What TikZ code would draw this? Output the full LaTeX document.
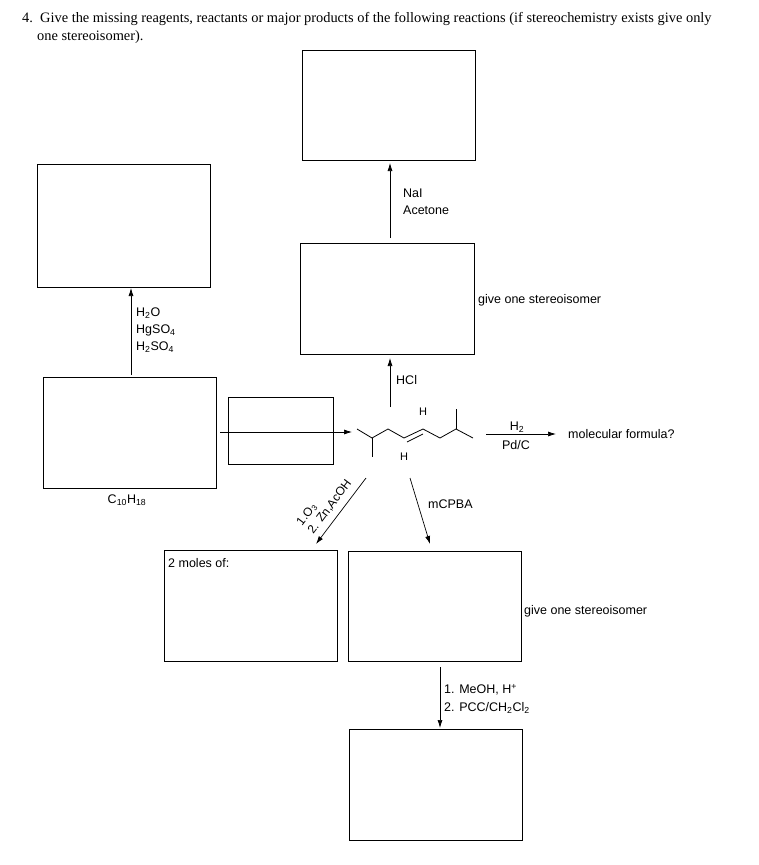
\documentclass[tikz,border=0pt]{standalone}
\usepackage{fontspec}
\setmainfont{Liberation Serif}
\newfontfamily\arial{Liberation Sans}
\usetikzlibrary{arrows.meta,calc}
\begin{document}
\begin{tikzpicture}[x=1pt,y=-1pt]
\tikzset{box/.style={draw,line width=0.8pt},
  rxn/.style={-{Latex[length=8pt,width=5pt]},line width=0.7pt},
  lbl/.style={font=\arial\fontsize{12.5}{17}\selectfont,inner sep=0pt,align=left},
  bond/.style={line width=0.8pt}}
\useasboundingbox (0,0) rectangle (759,865);
% question text
\node[anchor=base west,inner sep=0pt,font=\fontsize{14.4}{16}\selectfont] (q1) at (22,22) {4.\ \ Give the missing reagents, reactants or major products of the following reactions (if stereochemistry exists give only};
\node[anchor=base west,inner sep=0pt,font=\fontsize{14.4}{16}\selectfont] (q2) at (37,40) {one stereoisomer).};
% boxes
\draw[box] (302,50) rectangle (475,160);
\draw[box] (37,164) rectangle (210,287);
\draw[box] (300,243) rectangle (474,354);
\draw[box] (43,377) rectangle (216,488);
\draw[box] (228,397) rectangle (333,464);
\draw[box] (164,550) rectangle (337,661);
\draw[box] (348,551) rectangle (521,661);
\draw[box] (349,729) rectangle (522,840);
% alkene
\coordinate (a1) at (357,429); \coordinate (a2) at (372,438); \coordinate (a3) at (372,457);
\coordinate (a4) at (388,429); \coordinate (a5) at (404,438); \coordinate (a6) at (423,429);
\coordinate (a7) at (440,438); \coordinate (a8) at (456,429); \coordinate (a9) at (456,409);
\coordinate (a10) at (473,438);
\draw[bond] (a1) -- (a2) -- (a4) -- (a5) -- (a6) -- (a7) -- (a8) -- (a10);
\draw[bond] (a2) -- (a3);
\draw[bond] (a8) -- (a9);
\draw[bond] ($(a5)+(3,4)$) -- ($(a6)+(0,5)$);
\node[lbl,font=\arial\fontsize{11}{12}\selectfont] (hu) at (423,412) {H};
\node[lbl,font=\arial\fontsize{11}{12}\selectfont] (hd) at (404,457) {H};
% arrows
\draw[line width=0.7pt] (220,432) -- (345,432);
\draw[rxn] (333,432) -- (352,432);
\draw[rxn] (390,238) -- (390,163);
\node[lbl,anchor=north west] (nai) at (403,189) {NaI\\Acetone};
\draw[rxn] (131,375) -- (131,288);
\node[lbl,anchor=north west] (hgso) at (136,308) {H\textsubscript{2}O\\HgSO\textsubscript{4}\\H\textsubscript{2}SO\textsubscript{4}};
\draw[rxn] (390,407) -- (390,358);
\node[lbl,anchor=west] (hcl) at (396,380) {HCl};
\draw[rxn] (486,434) -- (556,434);
\node[lbl,anchor=south] (h2) at (517,433) {H\textsubscript{2}};
\node[lbl,anchor=north] (pdc) at (516,440) {Pd/C};
\node[lbl,anchor=west] (mf) at (568,434) {molecular formula?};
\node[lbl,anchor=west] (st1) at (478,300) {give one stereoisomer};
\node[lbl,anchor=west] (st2) at (524,611) {give one stereoisomer};
\draw[rxn] (366,478) -- (316,544);
\node[lbl,rotate=53,anchor=south,align=left,font=\arial\fontsize{12}{14}\selectfont] (oz) at (334,510) {1.O\textsubscript{3}\\2. Zn,AcOH};
\draw[rxn] (410,478) -- (430,544);
\node[lbl,anchor=west] (mcpba) at (428,504) {mCPBA};
\draw[rxn] (440,667) -- (440,728);
\node[lbl,anchor=west] (meoh) at (444,690) {1. MeOH, H\textsuperscript{+}};
\node[lbl,anchor=west] (pcc) at (444,708) {2. PCC/CH\textsubscript{2}Cl\textsubscript{2}};
\node[lbl] (c10) at (127,500) {C\textsubscript{10}H\textsubscript{18}};
\node[lbl,anchor=west] (moles) at (168,563) {2 moles of:};
\end{tikzpicture}
\end{document}
